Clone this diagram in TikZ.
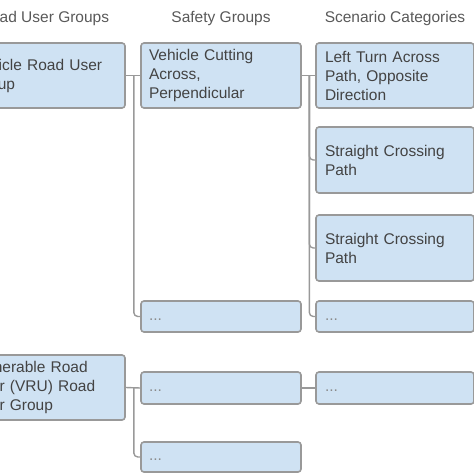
\documentclass[tikz,border=0pt]{standalone}
\usepackage{fontspec}
\setmainfont{Liberation Sans}
\definecolor{boxfill}{HTML}{CFE2F3}
\definecolor{boxline}{HTML}{999999}
\definecolor{txt}{HTML}{434343}
\definecolor{hdrtxt}{HTML}{595959}
\definecolor{dots}{HTML}{8A8A8A}
\begin{document}
\begin{tikzpicture}[x=1pt,y=-1pt,
  box/.style={draw=boxline, fill=boxfill, line width=1.6pt, rounded corners=3pt,
    align=left, text=txt, inner xsep=8pt, inner ysep=0pt,
    font=\fontsize{15.5}{19}\selectfont},
  wl/.style={text width=145pt},
  wm/.style={text width=144pt},
  wr/.style={text width=140pt, inner xsep=9pt},
  hdr/.style={text=hdrtxt, font=\fontsize{15.5}{19}\selectfont},
  dotbox/.style={text=dots},
  conn/.style={draw=boxline, line width=1.4pt, rounded corners=4pt}]
\useasboundingbox (0,0) rectangle (474,474);
\clip (0,0) rectangle (474,474);
% headers
\node[hdr] (h1) at (44.5,18) {Road User Groups};
\node[hdr] (h2) at (221,18) {Safety Groups};
\node[hdr] (h3) at (395,18) {Scenario Categories};
% left column
\node[box, wl, minimum height=65pt] (L1) at (44.5,75.5) {Vehicle Road User\\Group};
\node[box, wl, minimum height=65pt] (L2) at (44.5,387.5) {Vulnerable Road\\User (VRU) Road\\User Group};
% middle column
\node[box, wm, minimum height=65pt] (M1) at (221,75.5) {Vehicle Cutting\\Across,\\Perpendicular};
\node[box, wm, dotbox, minimum height=31pt] (M2) at (221,316.5) {\strut...};
\node[box, wm, dotbox, minimum height=32pt] (M3) at (221,388) {\strut...};
\node[box, wm, dotbox, minimum height=30pt] (M4) at (221,457) {\strut...};
% right column
\node[box, wr, minimum height=65pt] (R1) at (395,75.5) {Left Turn Across\\Path, Opposite\\Direction};
\node[box, wr, minimum height=66pt] (R2) at (395,160) {Straight Crossing\\Path};
\node[box, wr, minimum height=66pt] (R3) at (395,248) {Straight Crossing\\Path};
\node[box, wr, dotbox, minimum height=31pt] (R4) at (395,316.5) {\strut...};
\node[box, wr, dotbox, minimum height=32pt] (R5) at (395,388) {\strut...};
% junction points
\coordinate (j1) at ([xshift=8pt]L1.east);
\coordinate (j2) at ([xshift=8pt]L2.east);
\coordinate (j3) at ([xshift=7.5pt]M1.east);
% connectors
\draw[conn] (L1.east) -- (M1.west);
\draw[conn] (j1) |- (M2.west);
\draw[conn] (L2.east) -- (M3.west);
\draw[conn] (j2) |- (M4.west);
\draw[conn] (M1.east) -- (R1.west);
\draw[conn] (j3) |- (R2.west);
\draw[conn] (j3) |- (R3.west);
\draw[conn] (j3) |- (R4.west);
\draw[conn] (M3.east) -- (R5.west);
\end{tikzpicture}
\end{document}
